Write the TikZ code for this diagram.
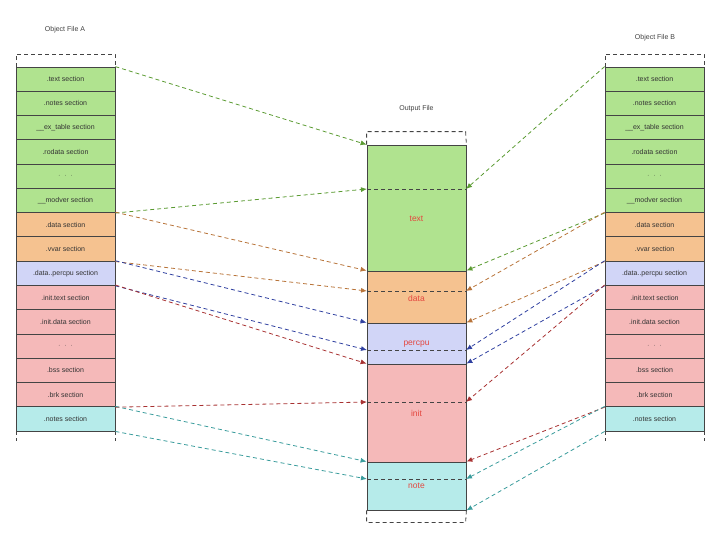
\documentclass[tikz,border=0pt]{standalone}
\usepackage{fontspec}
\setmainfont{Liberation Sans}
\usetikzlibrary{arrows.meta}
\definecolor{gF}{HTML}{B0E38F}\definecolor{gL}{HTML}{5B9B32}
\definecolor{oF}{HTML}{F5C290}\definecolor{oL}{HTML}{B8743A}
\definecolor{bF}{HTML}{D1D5F7}\definecolor{bL}{HTML}{2F40A0}
\definecolor{rF}{HTML}{F5B9B9}\definecolor{rL}{HTML}{A83232}
\definecolor{cF}{HTML}{B6EBEA}\definecolor{cL}{HTML}{3A9C9C}
\definecolor{lab}{HTML}{E4473F}\definecolor{edge}{HTML}{444444}
\tikzset{
 sect/.style={draw=edge,line width=0.8pt,minimum width=99pt,minimum height=24.27pt,inner sep=0pt,font=\fontsize{7}{8}\selectfont,text=black!80},
 obox/.style={draw=edge,line width=0.8pt,minimum width=99pt,inner sep=0pt},
 dsh/.style={draw=edge,line width=0.8pt,dash pattern=on 4pt off 3pt},
 conn/.style={line width=0.8pt,dash pattern=on 4pt off 3pt,-{Latex[length=6pt,width=5pt]}},
 ttl/.style={font=\fontsize{7}{8}\selectfont,text=black!75},
 olab/.style={font=\fontsize{8.5}{10}\selectfont,text=lab}
}
\begin{document}
\begin{tikzpicture}[x=1pt,y=-1pt]
\useasboundingbox (0,0) rectangle (720,539);
\foreach \side/\xc in {a/65.5,b/654.5}{
 \foreach \i/\t/\c in {1/.text section/gF,2/.notes section/gF,3/\_\_ex\_table section/gF,4/.rodata section/gF,5/{$\cdot\ \cdot\ \cdot$}/gF,6/\_\_modver section/gF,7/.data section/oF,8/.vvar section/oF,9/.data..percpu section/bF,10/.init.text section/rF,11/.init.data section/rF,12/{$\cdot\ \cdot\ \cdot$}/rF,13/.bss section/rF,14/.brk section/rF,15/.notes section/cF}{
  \node[sect,fill=\c] (\side\i) at (\xc,{67+24.27*(\i-0.5)}) {\t};
 }
 \draw[dsh] (\xc-49.5,67) -- (\xc-49.5,54) -- (\xc+49.5,54) -- (\xc+49.5,67);
 \draw[dsh] (\xc-49.5,431) -- (\xc-49.5,441) (\xc+49.5,431) -- (\xc+49.5,441);
}
\node[ttl] (ta) at (65,30) {Object File A};
\node[ttl] (tb) at (655,38) {Object File B};
\node[ttl] (to) at (416.5,109) {Output File};
% output
\node[obox,fill=gF,minimum height=126pt] (ot) at (416.5,208) {};
\node[obox,fill=oF,minimum height=52pt] (od) at (416.5,297) {};
\node[obox,fill=bF,minimum height=41pt] (op) at (416.5,343.5) {};
\node[obox,fill=rF,minimum height=98pt] (oi) at (416.5,413) {};
\node[obox,fill=cF,minimum height=48pt] (on) at (416.5,486) {};
\draw[dsh] (ot.north west) -- ++(0,-13) -- ++(99,0) -- (ot.north east);
\draw[dsh] (on.south west) -- ++(0,12) -- ++(99,0) -- (on.south east);
\foreach \n/\y in {t1/189,d1/291,p1/350,i1/402,n1/479}{
 \coordinate (\n L) at (367,\y); \coordinate (\n R) at (466,\y);
 \draw[dsh] (\n L) -- (\n R);
}
\node[olab] (lt) at (416.5,219) {text};
\node[olab] (ld) at (416.5,298) {data};
\node[olab] (lp) at (416.5,344) {percpu};
\node[olab] (li) at (416.5,413) {init};
\node[olab] (ln) at (416.5,486) {note};
% left connectors
\draw[conn,gL] (a1.north east) -- (ot.north west);
\draw[conn,gL] (a6.south east) -- (t1L);
\draw[conn,oL] (a7.north east) -- (od.north west);
\draw[conn,oL] (a8.south east) -- (d1L);
\draw[conn,bL] (a9.north east) -- (op.north west);
\draw[conn,bL] (a9.south east) -- (p1L);
\draw[conn,rL] (a10.north east) -- (oi.north west);
\draw[conn,rL] (a14.south east) -- (i1L);
\draw[conn,cL] (a15.north east) -- (on.north west);
\draw[conn,cL] (a15.south east) -- (n1L);
% right connectors
\draw[conn,gL] (b1.north west) -- (t1R);
\draw[conn,gL] (b6.south west) -- (od.north east);
\draw[conn,oL] (b7.north west) -- (d1R);
\draw[conn,oL] (b8.south west) -- (op.north east);
\draw[conn,bL] (b9.north west) -- (p1R);
\draw[conn,bL] (b9.south west) -- (oi.north east);
\draw[conn,rL] (b10.north west) -- (i1R);
\draw[conn,rL] (b14.south west) -- (on.north east);
\draw[conn,cL] (b15.north west) -- (n1R);
\draw[conn,cL] (b15.south west) -- (on.south east);
\end{tikzpicture}
\end{document}
